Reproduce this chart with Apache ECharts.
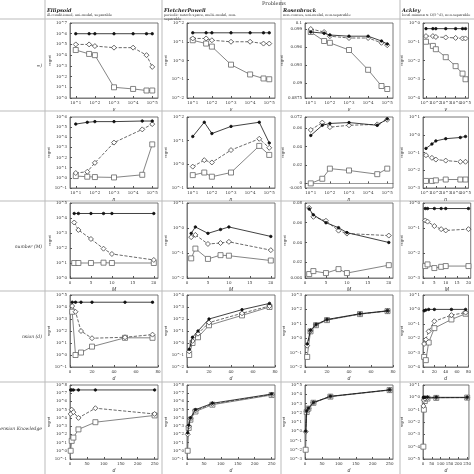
<!DOCTYPE html>
<html><head><meta charset="utf-8">
<script src="https://cdn.jsdelivr.net/npm/echarts@6/dist/echarts.min.js"></script>
<style>html,body{margin:0;background:#fff}#c{width:474px;height:474px}</style>
</head><body><div id="c"></div>
<script>
// x values per row
var xV = [10, 50, 100, 1000, 10000, 50000, 100000];
var xN = [10, 40, 100, 1000, 30000, 100000];
var xM = [1, 2, 5, 8, 10, 20];
var xD = [2, 5, 10, 20, 50, 75];
var xK = [2, 5, 10, 25, 75, 250];

// [black, diamond, square] per panel
var p11 = [[1e6,1e6,1e6,1e6,1e6,1e6,1e6],[1e5,1e5,7e4,5e4,5e4,1e4,8e2],[3e4,1.3e4,1e4,10,7,5,5]];
var p12 = [[30,30,30,30,30,30,30],[15,15,12,10,10,8,8],[12,8,5.5,0.6,0.18,0.11,0.1]];
var p13 = [[0.0985,0.0983,0.098,0.0978,0.0978,0.097,0.0965],[0.099,0.0985,0.0978,0.0975,0.0975,0.0967,0.0963],[0.0985,0.097,0.0967,0.0955,0.0922,0.0895,0.089]];
var p14 = [[0.5,0.5,0.5,0.5,0.5,0.5,0.5],[0.2,0.2,0.18,0.17,0.16,0.15,0.15],[0.1,0.06,0.04,0.015,0.005,0.002,0.001]];
var p21 = [[2e5,3e5,3.5e5,3.5e5,4e5,4e5],[3,4,30,3e3,6e4,2e5],[1.5,1.3,1.2,1.1,2,2e3]];
var p22 = [[15,60,20,40,60,8],[0.8,1.5,1.2,4,12,5],[0.35,0.45,0.3,0.45,6,2.5]];
var p23 = [[0.052,0.063,0.065,0.066,0.063,0.07],[0.058,0.066,0.061,0.063,0.064,0.069],[0,0.005,0.016,0.014,0.01,0.016]];
var p24 = [[0.17,0.3,0.45,0.6,0.7,0.8],[0.07,0.05,0.04,0.035,0.03,0.03],[0.0025,0.0025,0.0027,0.003,0.003,0.003]];
var p31 = [[2e4,2e4,2e4,2e4,2e4,2e4],[5e3,1.6e3,4e2,90,40,16],[10,10,10,10.5,10,10]];
var p32 = [[0.61,1.1,0.61,0.87,1.1,0.46],[0.43,0.53,0.23,0.25,0.28,0.13],[0.061,0.15,0.058,0.082,0.078,0.05]];
var p33 = [[0.074,0.068,0.06,0.055,0.05,0.04],[0.075,0.066,0.062,0.052,0.049,0.047],[0.008,0.011,0.009,0.013,0.009,0.017]];
var p34 = [[0.6,0.6,0.6,0.6,0.6,0.6],[0.2,0.18,0.12,0.09,0.08,0.09],[0.003,0.0035,0.0025,0.0028,0.003,0.003]];
var p41 = [[2.5e4,2.5e4,2.5e4,2.5e4,2.5e4,2.5e4],[1.2e4,4e3,1e2,25,30,50],[4e3,1,1.6,5,27,27]];
var p42 = [[0.3,3,10,100,600,2000],[0.2,1.5,6,50,300,1200],[0.1,1,3,30,200,1000]];
var p43 = [[0.4,3.5,9,20,50,80],[0.3,3.2,8.5,19,48,78],[0.05,3,8,18,47,76]];
var p44 = [[0.8,0.9,1,1,1,1],[0.004,0.008,0.03,0.15,0.4,0.6],[5e-4,3e-4,0.005,0.05,0.2,0.5]];
var p51 = [[2.5e7,2.5e7,2.5e7,2.5e7,2.5e7,2.5e7],[3e4,1e5,5e4,1e4,1.5e5,3e4],[1,16,40,400,3e3,2e4]];
var p52 = [[150,1300,1e4,1e5,6e5,8e6],[100,900,8e3,8e4,5e5,7e6],[1,600,6e3,6e4,4e5,6e6]];
var p53 = [[1,150,300,1300,6e3,3e4],[0.9,140,290,1250,5.8e3,2.9e4],[0.01,120,280,1200,5.5e3,2.8e4]];
var p54 = [[1,1,1,1,1,1],[0.2,0.6,0.8,0.9,0.95,0.95],[1e-4,0.1,0.5,0.8,0.9,0.95]];

var colHead = ['Ellipsoid', 'FletcherPowell', 'Rosenbrock', 'Ackley'];
var colSub = ['ill-conditioned, uni-modal, separable', 'periodic search space, multi-modal, non-\nseparable', 'non-convex, uni-modal, non-separable', 'local minima \u2264 O(5^d), non-separable'];
var rowLab = ['=)', '', 'number (M)', 'nsion (d)', 'ension Knowledge'];
var xNames = ['v', 'n', 'M', 'd', 'd'];

var panels = [
  [p11, p12, p13, p14], [p21, p22, p23, p24], [p31, p32, p33, p34], [p41, p42, p43, p44], [p51, p52, p53, p54]
];
var rowX = [xV, xN, xM, xD, xK];
var rowTop = [23, 117, 203, 295, 385];
var rowH = [75, 71, 75, 72, 75];
var colL = [70, 187, 305, 423];
var yLin = { '0-2': [0.0875, 0.1], '1-2': [-0.005, 0.072], '2-2': [0.004, 0.08] };

var grid = [], xAxis = [], yAxis = [], series = [], graphic = [];
var tiny = { fontSize: 4, color: '#333', fontFamily: 'DejaVu Serif' };
var sty = [
  { c: '#111', sym: 'circle', s: 2.5, t: 'solid', fill: '#111' },
  { c: '#444', sym: 'diamond', s: 5, t: 'dashed', fill: '#fff' },
  { c: '#666', sym: 'rect', s: 5, t: 'solid', fill: '#fff' }
];
panels.forEach(function (row, r) {
  row.forEach(function (p, c) {
    var i = grid.length;
    var g = { left: colL[c], top: rowTop[r], height: rowH[r], show: true, borderColor: '#555', borderWidth: 0.8 };
    if (c === 3) g.right = -41; else g.width = 88;
    grid.push(g);
    var xs = rowX[r];
    var xlog = r < 2;
    var xa = { gridIndex: i, type: xlog ? 'log' : 'value', name: xNames[r], nameLocation: 'middle', nameGap: 9,
      nameTextStyle: { fontSize: 5, fontStyle: 'italic', color: '#333' },
      axisLine: { lineStyle: { color: '#555', width: 0.6 } }, axisTick: { length: 2, inside: true },
      axisLabel: Object.assign({ margin: 3 }, tiny, { formatter: function (v) { return xlog ? '10^' + Math.round(Math.log10(v)) : v; } }),
      splitLine: { show: false } };
    if (xlog) { xa.min = 5; xa.max = 2e5; }
    else { xa.min = 0; xa.max = [null, null, 21, 80, 260][r]; xa.interval = [0, 0, 5, 20, 50][r]; }
    xAxis.push(xa);
    var key = r + '-' + c;
    var ya = { gridIndex: i, name: 'regret', nameLocation: 'middle', nameGap: 15, nameRotate: 90,
      nameTextStyle: { fontSize: 4, color: '#333' },
      axisLine: { lineStyle: { color: '#555', width: 0.6 } }, axisTick: { length: 2, inside: true },
      axisLabel: Object.assign({ margin: 3 }, tiny), splitLine: { show: false } };
    var all = [].concat(p[0], p[1], p[2]);
    if (yLin[key]) { ya.type = 'value'; ya.min = yLin[key][0]; ya.max = yLin[key][1]; }
    else {
      ya.type = 'log';
      var lo = Math.min.apply(null, all), hi = Math.max.apply(null, all);
      ya.min = Math.pow(10, Math.floor(Math.log10(lo) - 0.2));
      ya.max = Math.pow(10, Math.ceil(Math.log10(hi) + 0.2));
      ya.axisLabel.formatter = function (v) { return '10^' + Math.round(Math.log10(v)); };
    }
    yAxis.push(ya);
    p.forEach(function (vals, k) {
      var s = sty[k];
      series.push({ type: 'line', xAxisIndex: i, yAxisIndex: i, data: vals.map(function (v, j) { return [xs[j], v]; }),
        symbol: s.sym, symbolSize: s.s, showSymbol: true,
        lineStyle: { color: s.c, width: 0.8, type: s.t },
        itemStyle: { color: s.fill, borderColor: s.c, borderWidth: 0.8 }, z: 3 - k, animation: false });
    });
  });
});

// table rules
var ln = { stroke: '#bbb', lineWidth: 1 };
graphic.push({ type: 'line', shape: { x1: 0, y1: 19, x2: 474, y2: 19 }, style: ln });
[111, 201, 291, 382].forEach(function (y) { graphic.push({ type: 'line', shape: { x1: 0, y1: y, x2: 474, y2: y }, style: ln }); });
[45, 162, 281, 400].forEach(function (x) { graphic.push({ type: 'line', shape: { x1: x, y1: 0, x2: x, y2: 474 }, style: ln }); });
graphic.push({ type: 'text', left: 262, top: 1, style: { text: 'Problems', fontSize: 5, fill: '#333', fontFamily: 'DejaVu Serif' } });
colHead.forEach(function (h, c) {
  var x = [47, 164, 283, 402][c];
  graphic.push({ type: 'text', left: x, top: 8, style: { text: h, fontSize: 5, fontWeight: 'bold', fontStyle: 'italic', fill: '#222', fontFamily: 'DejaVu Serif' } });
  graphic.push({ type: 'text', left: x, top: 13, style: { text: colSub[c], fontSize: 3.5, fill: '#333', fontFamily: 'DejaVu Serif', lineHeight: 4 } });
});
var rowMid = [65, 156, 246, 336, 428];
rowLab.forEach(function (t, r) {
  if (!t) return;
  graphic.push({ type: 'text', right: 474 - 42, top: rowMid[r] - 2, style: { text: t, fontSize: 4.5, fontStyle: 'italic', fill: '#333', fontFamily: 'DejaVu Serif', textAlign: 'right' } });
});

var chart = echarts.init(document.getElementById('c'));
chart.setOption({ animation: false, grid: grid, xAxis: xAxis, yAxis: yAxis, series: series, graphic: graphic });
</script></body></html>
